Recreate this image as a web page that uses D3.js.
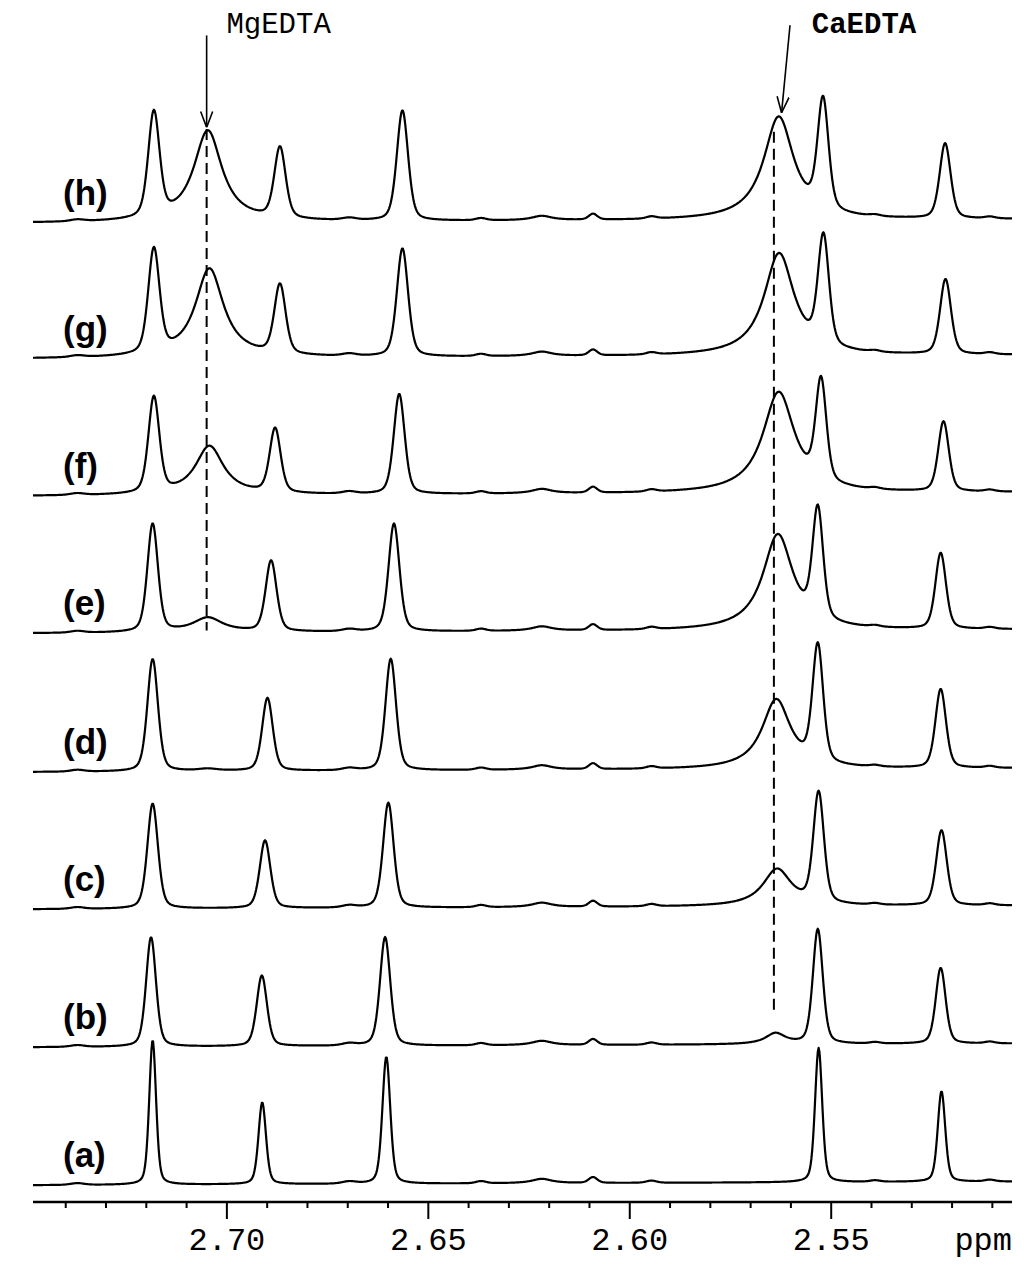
<!DOCTYPE html>
<html>
<head>
<meta charset="utf-8">
<script src="https://cdn.jsdelivr.net/npm/d3@7"></script>
<style>
  body { margin: 0; background: #fff; }
  svg { display: block; }
</style>
</head>
<body>
<div id="chart"></div>
<script>
// ---- data ----
// every spectrum is a list of peaks: [ppm, height, line width (FWHM, ppm)]
const labels  = ["(a)", "(b)", "(c)", "(d)", "(e)", "(f)", "(g)", "(h)"];
const offsets = [0, 94.5, 189, 283, 378, 472, 566, 659];   // vertical stacking, intensity units

const peaksA = [[2.7183, 99, 0.0020], [2.6911, 56, 0.0022], [2.6603, 87, 0.0023],
                [2.5530, 92, 0.0021], [2.5225, 62, 0.0022]];
const peaksB = [[2.7187, 75, 0.0029], [2.6912, 48.5, 0.0030], [2.6606, 74.5, 0.0030],
                [2.5637, 7.5, 0.006], [2.5532, 78.5, 0.0029], [2.5227, 52, 0.0029]];
const peaksC = [[2.7183, 72, 0.0031], [2.6904, 46.5, 0.0031], [2.6598, 72, 0.0031],
                [2.5633, 25.4, 0.0085], [2.5530, 75.5, 0.0031], [2.5225, 51.5, 0.0031]];
const peaksD = [[2.7183, 77, 0.0031], [2.7046, 1.5, 0.006], [2.6898, 50, 0.0031], [2.6592, 76.5, 0.0031],
                [2.5635, 47.5, 0.0085], [2.5532, 80, 0.0031], [2.5227, 54, 0.0031]];
const peaksE = [[2.7183, 74, 0.0031], [2.7046, 10, 0.009], [2.6889, 48.5, 0.0032], [2.6584, 74, 0.0032],
                [2.5631, 65.5, 0.009], [2.5532, 75, 0.0031], [2.5227, 52, 0.0031]];
const peaksF = [[2.7180, 65.5, 0.0032], [2.7042, 33.5, 0.0085], [2.6879, 44, 0.0032], [2.6571, 68.5, 0.0032],
                [2.5629, 69, 0.0095], [2.5524, 68.5, 0.0031], [2.5220, 48, 0.0031]];
const peaksG = [[2.7180, 71, 0.0033], [2.7042, 61, 0.0085], [2.6867, 47.5, 0.0033], [2.6563, 74, 0.0033],
                [2.5628, 70, 0.009], [2.5518, 74.5, 0.0032], [2.5215, 51.5, 0.0032]];
const peaksH = [[2.7180, 71.5, 0.0033], [2.7046, 62.5, 0.0085], [2.6867, 48.5, 0.0033], [2.6563, 75.5, 0.0033],
                [2.5629, 70.5, 0.009], [2.5519, 75, 0.0032], [2.5216, 51.5, 0.0032]];
const spectra = [peaksA, peaksB, peaksC, peaksD, peaksE, peaksF, peaksG, peaksH];

// small impurity bumps seen in every trace
const minorPeaks = [[2.7370, 1.2, 0.004], [2.6695, 1.5, 0.004], [2.6368, 1.5, 0.003],
                    [2.6217, 3.0, 0.006], [2.6090, 4.0, 0.0025], [2.5945, 1.5, 0.003],
                    [2.5390, 1.0, 0.003], [2.5105, 1.2, 0.003]];

const majorTicks = [2.70, 2.65, 2.60, 2.55];
const minorTicks = [2.74, 2.73, 2.72, 2.71, 2.69, 2.68, 2.67, 2.66, 2.64, 2.63, 2.62, 2.61,
                    2.59, 2.58, 2.57, 2.56, 2.54, 2.53, 2.52, 2.51];

const markerNames = ["MgEDTA", "CaEDTA"];
const markerPpm   = [2.7049, 2.5641];

// ---- layout ----
const width = 1030, height = 1266;
const ppmDomain = [2.748, 2.505];
const step = 0.0002;

const svg = d3.select("#chart").append("svg")
  .attr("width", width)
  .attr("height", height);

const x = d3.scaleLinear().domain(ppmDomain).range([33, 1012]);
const y = d3.scaleLinear().domain([0, 800]).range([1183, 15]);
const drift = d3.scaleLinear().domain(ppmDomain).range([-1.5, 1]);

// 1) spectra: sharp lines are pseudo-Voigt, broad (exchange) lines Lorentzian
const grid = d3.range(ppmDomain[0], ppmDomain[1] - step / 2, -step);
function lineShape(p, pk) {
  const u = (p - pk[0]) / pk[2];
  const lor = 1 / (1 + 4 * u * u);
  const gau = Math.exp(-4 * Math.LN2 * u * u);
  const eta = pk[2] > 0.005 ? 1 : 0.35;
  return pk[1] * (eta * lor + (1 - eta) * gau);
}
const line = d3.line()
  .x(d => x(d[0]))
  .y(d => y(d[1]));

spectra.forEach((peaks, i) => {
  const pts = grid.map(p => {
    let v = offsets[i] + drift(p);
    peaks.forEach(pk => { v += lineShape(p, pk); });
    minorPeaks.forEach(pk => { v += lineShape(p, pk); });
    return [p, v];
  });
  svg.append("path")
    .attr("d", line(pts))
    .attr("fill", "none")
    .attr("stroke", "#000")
    .attr("stroke-width", 2.2)
    .attr("stroke-linejoin", "round");

  svg.append("text")
    .attr("x", 63)
    .attr("y", y(offsets[i]) - 16)
    .attr("font-family", "'Liberation Sans', Arial, sans-serif")
    .attr("font-weight", "bold")
    .attr("font-size", 35)
    .text(labels[i]);
});

// 2) dashed guide lines (top / bottom in intensity units)
const dashTop = [722, 720], dashBottom = [378.5, 115];
markerPpm.forEach((p, i) => {
  svg.append("line")
    .attr("x1", x(p)).attr("x2", x(p))
    .attr("y1", y(dashTop[i])).attr("y2", y(dashBottom[i]))
    .attr("stroke", "#000")
    .attr("stroke-width", 2)
    .attr("stroke-dasharray", "11,6");
});

// 3) arrows and names
svg.append("defs").append("marker")
  .attr("id", "head")
  .attr("viewBox", "0 -7 16 14")
  .attr("refX", 16).attr("refY", 0)
  .attr("markerWidth", 16).attr("markerHeight", 14)
  .attr("markerUnits", "userSpaceOnUse")
  .attr("orient", "auto")
  .append("path")
    .attr("d", "M0,-6 L16,0 L0,6")
    .attr("fill", "none")
    .attr("stroke", "#000")
    .attr("stroke-width", 1.6);

const arrowFrom = [[2.7049, 786], [2.5601, 793]];
const arrowTo   = [[2.7049, 723], [2.5622, 733]];
arrowFrom.forEach((a, i) => {
  svg.append("line")
    .attr("x1", x(a[0])).attr("y1", y(a[1]))
    .attr("x2", x(arrowTo[i][0])).attr("y2", y(arrowTo[i][1]))
    .attr("stroke", "#000")
    .attr("stroke-width", 1.6)
    .attr("marker-end", "url(#head)");
});

const namePpm = [2.7000, 2.5547];
markerNames.forEach((n, i) => {
  svg.append("text")
    .attr("x", x(namePpm[i]))
    .attr("y", 33)
    .attr("font-family", "'Liberation Mono', 'Courier New', monospace")
    .attr("font-size", 29)
    .attr("font-weight", i === 1 ? "bold" : "normal")
    .text(n);
});

// 4) ppm axis
const axisY = 1202;
const gAxis = svg.append("g").attr("transform", `translate(0,${axisY})`);

gAxis.append("g")
  .call(d3.axisBottom(x).tickValues(minorTicks).tickSize(6).tickFormat(""))
  .call(g => g.select(".domain").remove());

gAxis.append("g")
  .call(d3.axisBottom(x).tickValues(majorTicks).tickSize(17).tickSizeOuter(0)
    .tickFormat(d3.format(".2f")))
  .call(g => g.select(".domain").remove())
  .call(g => g.selectAll("text")
    .attr("y", 48)
    .attr("dy", 0)
    .attr("font-family", "'Liberation Mono', 'Courier New', monospace")
    .attr("font-size", 32)
    .attr("fill", "#000"));

gAxis.selectAll(".tick line")
  .attr("stroke", "#000")
  .attr("stroke-width", 2);

gAxis.append("line")
  .attr("x1", x(ppmDomain[0])).attr("x2", x(ppmDomain[1]))
  .attr("stroke", "#000")
  .attr("stroke-width", 2.5);

gAxis.append("text")
  .attr("x", x(ppmDomain[1]))
  .attr("y", 48)
  .attr("text-anchor", "end")
  .attr("font-family", "'Liberation Mono', 'Courier New', monospace")
  .attr("font-size", 32)
  .text("ppm");
</script>
</body>
</html>
